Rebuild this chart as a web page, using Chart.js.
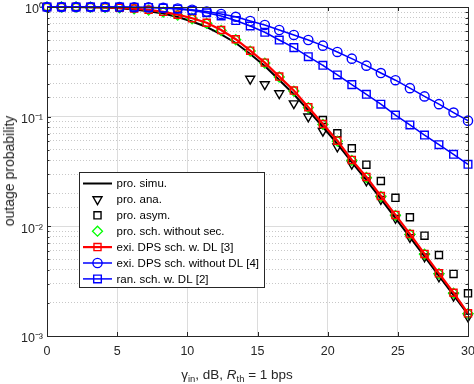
<!DOCTYPE html>
<html><head><meta charset="utf-8">
<script src="https://cdn.jsdelivr.net/npm/chart.js@4.4.1/dist/chart.umd.min.js"></script>
<style>
html,body{margin:0;padding:0;background:#fff;overflow:hidden;width:474px;height:384px;}
#c{position:absolute;left:0;top:0;}
.t{position:absolute;white-space:nowrap;font-family:"Liberation Sans",Arial,sans-serif;color:#262626;font-size:14px;line-height:1;}
#yt{left:9px;top:171px;transform:translate(-50%,-50%) rotate(-90deg);}
#xt{left:237px;top:375px;transform:translate(-50%,-50%);font-size:13.5px;}
sub{font-size:70%;vertical-align:-0.25em;line-height:0;}
</style></head>
<body>
<canvas id="c" width="476" height="384"></canvas>
<div class="t" id="yt">outage probability</div>
<div class="t" id="xt">γ<sub>in</sub>, dB, <i>R</i><sub>th</sub> = 1 bps</div>
<script>
// x positions (dB) of the 30 samples
const xDb = [0, 1.03, 2.07, 3.10, 4.14, 5.17, 6.21, 7.24, 8.28, 9.31, 10.34, 11.38, 12.41, 13.45, 14.48,
  15.52, 16.55, 17.59, 18.62, 19.66, 20.69, 21.72, 22.76, 23.79, 24.83, 25.86, 26.90, 27.93, 28.97, 30];
const proSimu = [1.0, 0.999, 0.998, 0.995, 0.990, 0.973, 0.949, 0.916, 0.872, 0.811, 0.738, 0.657, 0.562, 0.470, 0.373,
  0.290, 0.216, 0.160, 0.114, 0.0805, 0.0565, 0.0385, 0.0264, 0.0178, 0.0119, 0.00796, 0.00532, 0.00353, 0.00236, 0.00157];
const proAna = [null, null, null, null, null, null, null, null, null, null, null, null, null, null, 0.221,
  0.197, 0.163, 0.132, 0.100, 0.0741, 0.0533, 0.0371, 0.0261, 0.0177, 0.0119, 0.00796, 0.0053, 0.00348, 0.00232, 0.0015];
const proAsym = [null, null, null, null, null, null, null, null, null, null, null, null, null, null, null,
  null, null, null, null, 0.0933, 0.0706, 0.0515, 0.0365, 0.0259, 0.0182, 0.0121, 0.00822, 0.00548, 0.00368, 0.00245];
const proNoSec = [1.0, 1.0, 1.0, 0.999, 0.993, 0.981, 0.963, 0.938, 0.898, 0.843, 0.781, 0.710, 0.610, 0.503, 0.396,
  0.308, 0.230, 0.171, 0.121, 0.0850, 0.0598, 0.0400, 0.0279, 0.0187, 0.0126, 0.00845, 0.00556, 0.00370, 0.00246, 0.00160];
const exiDL = [1.0, 1.0, 1.0, 0.999, 0.994, 0.983, 0.967, 0.943, 0.904, 0.851, 0.789, 0.719, 0.617, 0.508, 0.400,
  0.311, 0.232, 0.173, 0.122, 0.0858, 0.0604, 0.0403, 0.0282, 0.0189, 0.0127, 0.00853, 0.0056, 0.00373, 0.00248, 0.00161];
const exiNoDL = [1.0, 1.0, 1.0, 1.0, 1.0, 0.998, 0.996, 0.992, 0.983, 0.969, 0.945, 0.910, 0.864, 0.814, 0.745,
  0.685, 0.617, 0.556, 0.500, 0.444, 0.389, 0.338, 0.292, 0.250, 0.215, 0.182, 0.153, 0.130, 0.109, 0.092];
const ranDL = [1.0, 1.0, 1.0, 1.0, 1.0, 0.998, 0.996, 0.990, 0.979, 0.959, 0.929, 0.885, 0.828, 0.753, 0.671,
  0.588, 0.500, 0.426, 0.352, 0.294, 0.240, 0.196, 0.160, 0.130, 0.1035, 0.084, 0.068, 0.0555, 0.0454, 0.0368];
const seriesLabels = ['pro. simu.', 'pro. ana.', 'pro. asym.', 'pro. sch. without sec.',
  'exi. DPS sch. w. DL [3]', 'exi. DPS sch. without DL [4]', 'ran. sch. w. DL [2]'];
const xTickValues = [0, 5, 10, 15, 20, 25, 30];
const yDecades = [0.001, 0.01, 0.1, 1];
const yTickLabels = ['10⁻³', '10⁻²', '10⁻¹', '10⁰'];

const FONT = '"Liberation Sans", Arial, sans-serif';
const pts = arr => xDb.map((x, i) => ({x, y: arr[i]})).filter(p => p.y !== null);
const isMajor = v => yDecades.some(d => Math.abs(v / d - 1) < 1e-6);
const hollow = 'rgba(0,0,0,0)';

function ds(i, arr, o) {
  return Object.assign({
    label: seriesLabels[i], data: pts(arr), order: 10 - i, clip: false,
    backgroundColor: hollow, pointBackgroundColor: hollow, tension: 0
  }, o);
}
const datasets = [
  ds(0, proSimu, {borderColor: '#000', borderWidth: 2, pointRadius: 0, showLine: true}),
  ds(1, proAna, {borderColor: '#000', pointBorderColor: '#000', showLine: false, pointStyle: 'triangle', pointRotation: 180, pointRadius: 5.2, pointBorderWidth: 1.4}),
  ds(2, proAsym, {borderColor: '#000', pointBorderColor: '#000', showLine: false, pointStyle: 'rect', pointRadius: 5, pointBorderWidth: 1.4}),
  ds(3, proNoSec, {borderColor: '#00ff00', pointBorderColor: '#00ff00', showLine: false, pointStyle: 'rectRot', pointRadius: 5, pointBorderWidth: 1.3}),
  ds(4, exiDL, {borderColor: '#ff0000', pointBorderColor: '#ff0000', borderWidth: 2.2, pointStyle: 'rect', pointRadius: 5, pointBorderWidth: 1.4}),
  ds(5, exiNoDL, {borderColor: '#0000ff', pointBorderColor: '#0000ff', borderWidth: 1.5, pointStyle: 'circle', pointRadius: 4.6, pointBorderWidth: 1.4}),
  ds(6, ranDL, {borderColor: '#0000ff', pointBorderColor: '#0000ff', borderWidth: 1.5, pointStyle: 'rect', pointRadius: 5.4, pointBorderWidth: 1.4})
];

function marker(ctx, style, r, rot, x, y) {
  ctx.beginPath();
  if (style === 'circle') { ctx.arc(x, y, r, 0, Math.PI * 2); }
  else if (style === 'rect') { const s = r * Math.SQRT1_2; ctx.rect(x - s, y - s, 2 * s, 2 * s); }
  else if (style === 'rectRot') { ctx.moveTo(x, y - r); ctx.lineTo(x + r, y); ctx.lineTo(x, y + r); ctx.lineTo(x - r, y); ctx.closePath(); }
  else if (style === 'triangle') {
    const a0 = (rot || 0) * Math.PI / 180 - Math.PI / 2;
    for (let k = 0; k < 3; k++) { const a = a0 + k * 2 * Math.PI / 3; const px = x + r * Math.cos(a), py = y + r * Math.sin(a); k ? ctx.lineTo(px, py) : ctx.moveTo(px, py); }
    ctx.closePath();
  }
  ctx.stroke();
}

const framePlugin = {
  id: 'frame',
  afterDatasetsDraw(chart) {
    const {ctx, chartArea: a, scales: {x, y}} = chart;
    ctx.save();
    ctx.strokeStyle = '#262626'; ctx.lineWidth = 1;
    ctx.beginPath();
    x.ticks.forEach(t => {
      const px = Math.round(x.getPixelForValue(t.value)) + 0.5;
      ctx.moveTo(px, a.bottom); ctx.lineTo(px, a.bottom - 4);
      ctx.moveTo(px, a.top); ctx.lineTo(px, a.top + 4);
    });
    y.ticks.forEach(t => {
      const py = Math.round(y.getPixelForValue(t.value)) + 0.5;
      const len = isMajor(t.value) ? 4 : 2.5;
      ctx.moveTo(a.left, py); ctx.lineTo(a.left + len, py);
      ctx.moveTo(a.right, py); ctx.lineTo(a.right - len, py);
    });
    ctx.stroke();
    ctx.strokeRect(Math.round(a.left) + 0.5, Math.round(a.top) + 0.5, Math.round(a.right - a.left), Math.round(a.bottom - a.top));
    ctx.restore();
  },
  afterDraw(chart) {
    const ctx = chart.ctx;
    const bx = 79.5, by = 172.5, bw = 185, bh = 115;
    ctx.save();
    ctx.fillStyle = '#fff'; ctx.fillRect(bx, by, bw, bh);
    ctx.strokeStyle = '#262626'; ctx.lineWidth = 1; ctx.strokeRect(bx, by, bw, bh);
    ctx.font = '11.5px ' + FONT; ctx.textBaseline = 'middle'; ctx.textAlign = 'left';
    chart.data.datasets.forEach((d, i) => {
      const cy = 183.5 + i * 15.9;
      if (d.showLine !== false) {
        ctx.strokeStyle = d.borderColor; ctx.lineWidth = d.borderWidth;
        ctx.beginPath(); ctx.moveTo(83, cy); ctx.lineTo(112, cy); ctx.stroke();
      }
      if (d.pointRadius > 0) {
        ctx.strokeStyle = d.pointBorderColor; ctx.lineWidth = d.pointBorderWidth;
        marker(ctx, d.pointStyle, d.pointRadius, d.pointRotation, 97.5, cy);
      }
      ctx.fillStyle = '#000';
      ctx.fillText(d.label, 116.5, cy + 0.5);
    });
    ctx.restore();
  }
};

new Chart(document.getElementById('c'), {
  type: 'line',
  data: {datasets},
  plugins: [framePlugin],
  options: {
    responsive: false, animation: false, events: [],
    layout: {autoPadding: false, padding: {top: 7, right: 8, left: 0, bottom: 0}},
    plugins: {legend: {display: false}, tooltip: {enabled: false}},
    scales: {
      x: {
        type: 'linear', min: 0, max: 30,
        afterBuildTicks: s => { s.ticks = xTickValues.map(v => ({value: v})); },
        afterFit: s => { s.height = 48; s.paddingLeft = 0; s.paddingRight = 0; },
        grid: {color: '#dcdcdc', lineWidth: 1, drawTicks: false},
        border: {display: false},
        ticks: {font: {family: FONT, size: 12.5}, color: '#262626', padding: 8, maxRotation: 0, autoSkip: false}
      },
      y: {
        type: 'logarithmic', min: 0.001, max: 1,
        afterFit: s => { s.width = 47; s.paddingTop = 0; s.paddingBottom = 0; },
        grid: {
          drawTicks: false, lineWidth: 1,
          color: c => (c.tick && isMajor(c.tick.value)) ? '#dcdcdc' : '#c8c8c8'
        },
        border: {display: false, dash: c => (c.tick && !isMajor(c.tick.value)) ? [1, 2] : []},
        ticks: {
          font: {family: FONT, size: 12.5}, color: '#262626', padding: 4, autoSkip: false, labelOffset: 3,
          callback: v => { const k = yDecades.findIndex(d => Math.abs(v / d - 1) < 1e-6); return k >= 0 ? yTickLabels[k] : ''; }
        }
      }
    }
  }
});
</script>
</body></html>
